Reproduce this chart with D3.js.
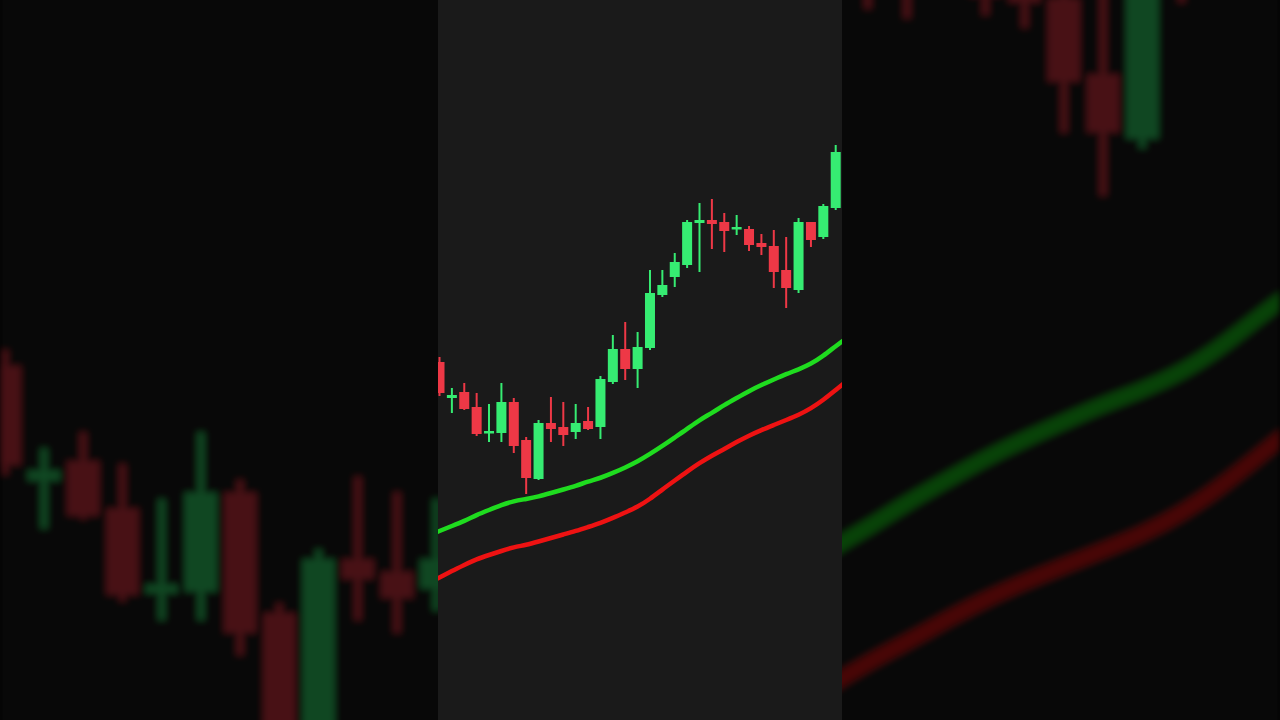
<!DOCTYPE html>
<html>
<head>
<meta charset="utf-8">
<script src="https://cdn.jsdelivr.net/npm/d3@7"></script>
<style>
  html, body { margin: 0; padding: 0; background: #000; overflow: hidden; }
  svg { display: block; }
</style>
</head>
<body>
<svg id="chart" width="1280" height="720"></svg>
<script>
// ---- data (price units) ----
const candleIndex = d3.range(0, 33);
const opens  = [63.8,60.2,60.8,59.3,56.7,56.7,59.8,56.0,52.1,57.7,57.3,56.8,57.9,57.3,61.8,65.1,63.1,65.2,70.5,72.3,73.5,77.7,78.0,77.8,77.1,77.1,75.7,75.4,73.0,71.0,77.8,76.3,79.2];
const highs  = [64.3,61.2,61.7,60.7,59.6,61.7,60.2,56.3,58.0,60.3,59.8,59.6,59.3,62.4,66.5,67.8,66.8,73.0,73.0,74.7,78.0,79.7,80.1,78.7,78.5,77.4,76.6,77.0,76.3,78.2,77.8,79.6,85.5];
const lows   = [60.4,58.7,59.0,56.4,55.8,55.8,54.7,50.6,52.0,55.8,55.4,56.1,57.0,56.1,61.6,62.0,61.2,65.0,70.3,71.3,73.2,72.8,75.1,74.8,76.5,74.9,74.5,71.2,69.2,70.7,75.3,76.1,79.0];
const closes = [60.7,60.5,59.1,56.6,56.9,59.8,55.4,52.2,57.7,57.1,56.5,57.7,57.1,62.1,65.1,63.1,65.3,70.7,71.5,73.8,77.8,78.0,77.6,76.9,77.3,75.5,75.3,72.8,71.2,77.8,76.0,79.4,84.8];

// moving-average lines, one value per bar from index -1 to 33
const lineIndex = d3.range(-1, 34);
const fastLine = [46.4,46.9,47.4,47.9,48.5,49.0,49.5,49.9,50.1,50.35,50.7,51.05,51.4,51.85,52.2,52.7,53.25,53.85,54.6,55.4,56.25,57.1,58.0,58.7,59.5,60.2,60.9,61.5,62.05,62.6,63.05,63.6,64.4,65.4,66.3];
const slowLine = [41.6,42.25,42.9,43.5,44.1,44.5,44.9,45.3,45.5,45.85,46.2,46.55,46.9,47.3,47.7,48.2,48.75,49.3,50.1,51.05,51.95,52.85,53.7,54.45,55.1,55.8,56.45,57.0,57.5,58.0,58.5,59.15,60.0,61.0,62.0];

// ---- layout ----
const W = 1280, H = 720;
const panel = {x: 438, w: 404};
const x = d3.scaleLinear().domain([0, 32]).range([439.5, 835.7]);
const y = d3.scaleLinear().domain([40, 90]).range([600, 100]);
const bodyW = 10;
const upColor = "#36ec72", downColor = "#ee3846";
const fastColor = "#1fdc1f", slowColor = "#ee1212";

const candles = candleIndex.map((i, k) => ({i, o: opens[k], h: highs[k], l: lows[k], c: closes[k]}));

const svg = d3.select("#chart");
const defs = svg.append("defs");
defs.append("clipPath").attr("id", "panelClip")
  .append("rect").attr("x", panel.x).attr("y", 0).attr("width", panel.w).attr("height", H);
const blur = defs.append("filter").attr("id", "blur")
  .attr("x", "-10%").attr("y", "-10%").attr("width", "120%").attr("height", "120%");
blur.append("feGaussianBlur").attr("stdDeviation", 3);

function drawChart(g) {
  const c = g.append("g").attr("clip-path", "url(#panelClip)");
  c.append("rect").attr("x", panel.x).attr("y", 0).attr("width", panel.w).attr("height", H)
    .attr("fill", "#1a1a1a");

  const line = d3.line().x((d, k) => x(lineIndex[k])).y(d => y(d)).curve(d3.curveBasis);
  c.append("path").datum(slowLine).attr("d", line)
    .attr("fill", "none").attr("stroke", slowColor).attr("stroke-width", 4.5).attr("stroke-linecap", "round");
  c.append("path").datum(fastLine).attr("d", line)
    .attr("fill", "none").attr("stroke", fastColor).attr("stroke-width", 4.5).attr("stroke-linecap", "round");

  const cg = c.append("g").selectAll("g").data(candles).join("g");
  cg.append("line")
    .attr("x1", d => x(d.i)).attr("x2", d => x(d.i))
    .attr("y1", d => y(d.h)).attr("y2", d => y(d.l))
    .attr("stroke", d => d.c >= d.o ? upColor : downColor).attr("stroke-width", 2);
  cg.append("rect")
    .attr("x", d => x(d.i) - bodyW / 2)
    .attr("width", bodyW)
    .attr("y", d => y(Math.max(d.o, d.c)))
    .attr("height", d => Math.max(2.5, Math.abs(y(d.o) - y(d.c))))
    .attr("fill", d => d.c >= d.o ? upColor : downColor);
}

// blurred, dimmed, magnified background copy
const s = W / panel.w;
const bgOuter = svg.append("g").attr("filter", "url(#blur)").attr("opacity", 0.3);
const bgInner = bgOuter.append("g")
  .attr("transform", `translate(${W/2},${H/2}) scale(${s}) translate(${-W/2},${-H/2})`);
drawChart(bgInner);

// sharp foreground panel
drawChart(svg.append("g"));
</script>
</body>
</html>
